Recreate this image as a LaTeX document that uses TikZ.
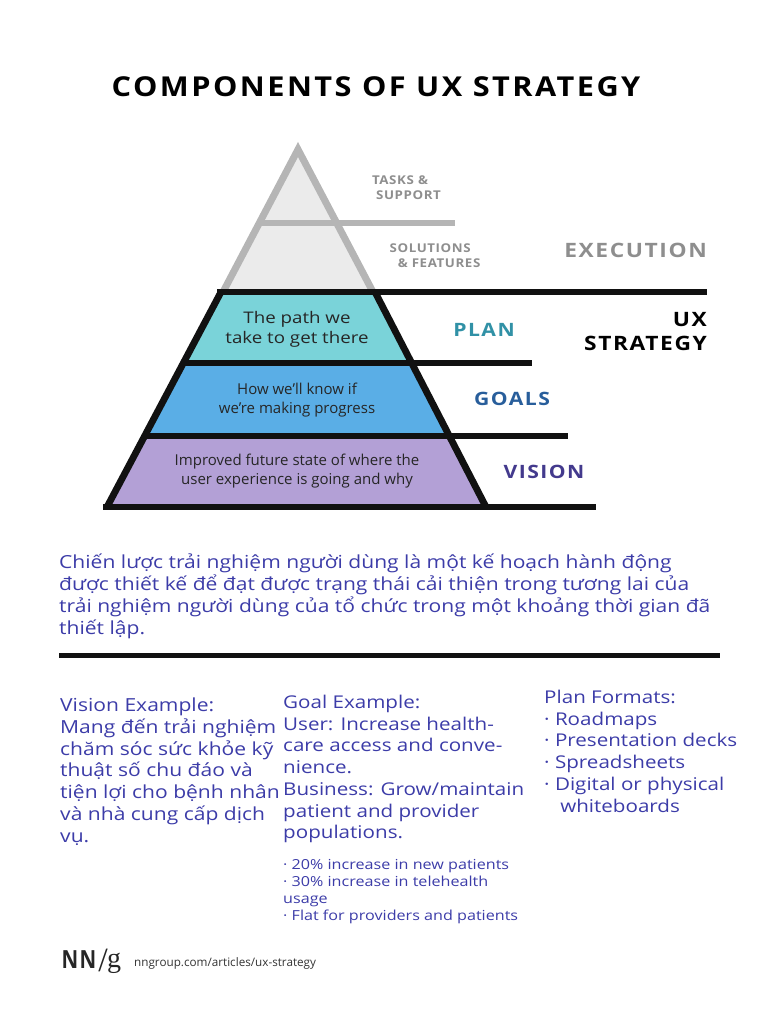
\documentclass[tikz,border=0pt]{standalone}
\usepackage{fontspec}
\setmainfont{Open Sans}
\newfontfamily\bodyfont[FakeStretch=1.17]{Open Sans}
\newfontfamily\titlefont[FakeStretch=1.12,LetterSpace=9]{Open Sans}
\newfontfamily\labelfont[FakeStretch=1.1,LetterSpace=5]{Open Sans}
\newfontfamily\tierfont[FakeStretch=1.15,LetterSpace=8]{Open Sans}
\newfontfamily\logofont[FakeStretch=0.82,LetterSpace=6]{Open Sans}
\newfontfamily\logoserif{Liberation Serif}
\definecolor{bodyblue}{HTML}{3C3CA8}
\definecolor{greyline}{HTML}{B5B5B5}
\definecolor{greyfill}{HTML}{EBEBEB}
\definecolor{greytext}{HTML}{8E8E8E}
\definecolor{planfill}{HTML}{7AD3D9}
\definecolor{goalfill}{HTML}{5AAEE6}
\definecolor{visionfill}{HTML}{B3A0D6}
\definecolor{plantext}{HTML}{3191A6}
\definecolor{goaltext}{HTML}{285E9B}
\definecolor{visiontext}{HTML}{433A8D}
\definecolor{darkline}{HTML}{111111}
\tikzstyle{bodytext} = [inner sep=0pt, anchor=north west, align=left, text=bodyblue,
    font=\bodyfont\fontsize{18}{21.7}\selectfont]
\tikzstyle{columntext} = [bodytext, font=\bodyfont\fontsize{17.6}{21.7}\selectfont]
\tikzstyle{smalltext} = [bodytext, font=\bodyfont\fontsize{13.8}{17}\selectfont]
\tikzstyle{tierlabel} = [inner sep=0pt, align=center, font=\tierfont\bfseries\fontsize{19.8}{24}\selectfont]
\tikzstyle{layerlabel} = [tierlabel, font=\tierfont\bfseries\fontsize{18.4}{24}\selectfont]
\tikzstyle{greylabel} = [inner sep=0pt, align=left, text=greytext, font=\labelfont\bfseries\fontsize{12.1}{15}\selectfont]
\tikzstyle{bandtext} = [inner sep=0pt, align=center, text=black!85]
\tikzstyle{blackrule} = [draw=darkline, line width=5.5pt]
\tikzstyle{greyrule} = [draw=greyline, line width=5.5pt]

\begin{document}
\begin{tikzpicture}[x=1pt, y=-1pt]
                \useasboundingbox (0,0) rectangle (768,1024);
                % title
                \node [inner sep=0pt, font=\titlefont\bfseries\fontsize{27.4}{30}\selectfont] (title) at (376,87) {COMPONENTS OF UX STRATEGY};
                % grey top of the pyramid
                \fill [greyfill] (298,150) -- (373,291) -- (223,291) -- cycle;
                \draw [greyrule, line width=7pt, line join=miter] (223,292) -- (298,149.5) -- (373,292);
                \draw [greyrule] (258,223) -- (455,223);
                % coloured bands
                \fill [planfill] (221,292) -- (375,292) -- (412,363) -- (183,363) -- cycle;
                \fill [goalfill] (183,363) -- (412,363) -- (450,436) -- (144,436) -- cycle;
                \fill [visionfill] (144,436) -- (450,436) -- (486,507) -- (107,507) -- cycle;
                % black lines
                \draw [blackrule, line width=6.8pt] (221,292) -- (107,507);
                \draw [blackrule, line width=6.8pt] (375,292) -- (486,507);
                \draw [blackrule] (217,292) -- (707,292);
                \draw [blackrule] (183,363) -- (532,363);
                \draw [blackrule] (144,436) -- (568,436);
                \draw [blackrule, line width=6pt] (103,507) -- (596,507);
                % band texts
                \node [bandtext, font=\bodyfont\fontsize{16}{20}\selectfont] (plantext) at (297,329) {The path we\\take to get there};
                \node [bandtext, font=\fontsize{15}{19.5}\selectfont] (goaltext) at (297,400) {How we'll know if\\we're making progress};
                \node [bandtext, font=\fontsize{15}{19.5}\selectfont] (visiontext) at (297,471) {Improved future state of where the\\user experience is going and why};
                % labels on the right
                \node [greylabel] (tasks) at (406.5,188) {TASKS \&\\\ SUPPORT};
                \node [greylabel] (solutions) at (435,256) {SOLUTIONS\\\ \ \& FEATURES};
                \node [tierlabel, text=greytext, anchor=east] (execution) at (707,250) {EXECUTION};
                \node [tierlabel, text=black, align=right, anchor=east] (uxstrategy) at (707,332) {UX\\STRATEGY};
                \node [layerlabel, text=plantext] (plan) at (484,329.5) {PLAN};
                \node [layerlabel, text=goaltext] (goals) at (512,398.5) {GOALS};
                \node [layerlabel, text=visiontext] (vision) at (544,471.5) {VISION};
                % paragraph and rule
                \node [bodytext] (intro) at (59,554) {Chiến lược trải nghiệm người dùng là một kế hoạch hành động\\được thiết kế để đạt được trạng thái cải thiện trong tương lai của\\trải nghiệm người dùng của tổ chức trong một khoảng thời gian đã\\thiết lập.};
                \draw [blackrule] (59,655.5) -- (720,655.5);
                % three columns
                \node [bodytext] (visionex) at (60,698) {Vision Example:\\Mang đến trải nghiệm\\chăm sóc sức khỏe kỹ\\thuật số chu đáo và\\tiện lợi cho bệnh nhân\\và nhà cung cấp dịch\\vụ.};
                \node [columntext] (goalex) at (283,695) {Goal Example:\\User: Increase health-\\care access and conve-\\nience.\\Business: Grow/maintain\\patient and provider\\populations.};
                \node [smalltext] (goallist) at (283,859) {· 20\% increase in new patients\\· 30\% increase in telehealth\\usage\\· Flat for providers and patients};
                \node [columntext] (planfmt) at (544,690) {Plan Formats:\\· Roadmaps\\· Presentation decks\\· Spreadsheets\\· Digital or physical\\\ \ \ whiteboards};
                % footer
                \node [inner sep=0pt, font=\logofont\bfseries\fontsize{25}{25}\selectfont, text=black!85] (logonn) at (79,960) {NN};
                \node [inner sep=0pt, font=\logoserif\fontsize{34}{34}\selectfont, text=black!85] (logoslash) at (103,960) {/};
                \node [inner sep=0pt, font=\logoserif\fontsize{28}{28}\selectfont, text=black!85] (logog) at (114,963) {g};
                \node [inner sep=0pt, anchor=west, font=\fontsize{11.7}{15}\selectfont, text=black!80] (footurl) at (134,963) {nngroup.com/articles/ux-strategy};
            \end{tikzpicture}
\end{document}
